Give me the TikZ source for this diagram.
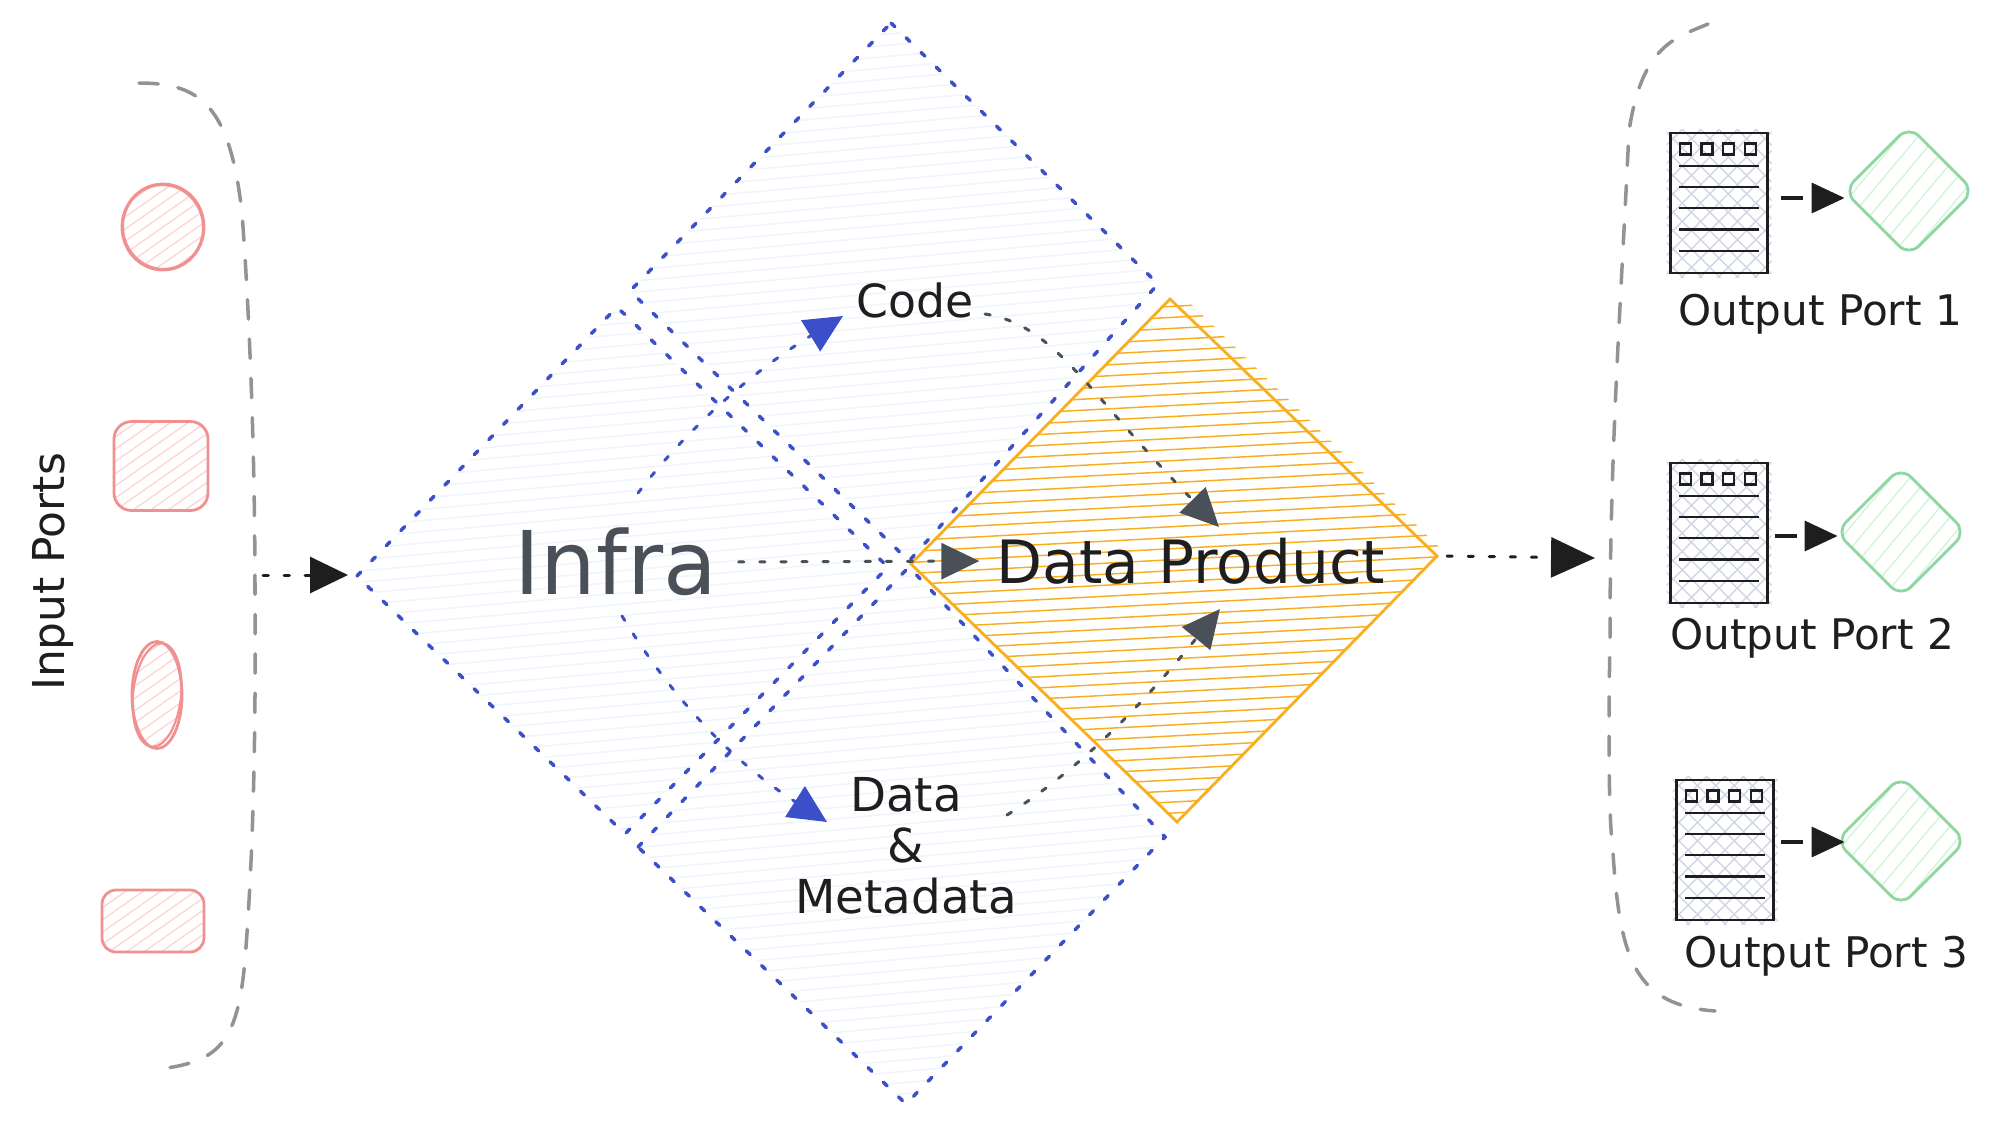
\documentclass[tikz,border=0pt]{standalone}
\usepackage{fontspec}
\setmainfont{DejaVu Sans}
\usetikzlibrary{calc,positioning,arrows.meta,shapes.geometric}
\definecolor{bluedot}{HTML}{3B4FC8}
\definecolor{orangeline}{HTML}{F8AE1E}
\definecolor{redline}{HTML}{F09090}
\definecolor{redfill}{HTML}{FFD5D5}
\definecolor{greenline}{HTML}{8FD6A0}
\definecolor{greenfill}{HTML}{D2F5D8}
\definecolor{inkdark}{HTML}{1E1E1E}
\definecolor{inkgray}{HTML}{495057}
\definecolor{crossfill}{HTML}{D0D6E2}
\definecolor{palefill}{HTML}{EEF5FC}
\tikzset{
  hachure/.style n args={4}{path picture={
    \foreach \h in {-60,...,60}
      \draw[#1, solid, line width=#4] ($(path picture bounding box.center)+(-#2:-9)+(90-#2:\h*#3)$) -- ++(-#2:18);
  }},
  quarter/.style={draw=bluedot, line width=1pt, dash pattern=on 1.5pt off 4.5pt, line cap=round,
    hachure={palefill}{5}{.112}{.45pt}},
  portshape/.style={draw=redline, line width=.8pt, inner sep=0pt, hachure={redfill}{35}{.1}{.4pt}},
  docbox/.style={draw=inkdark, line width=.7pt, inner sep=0pt, minimum width=.97cm, minimum height=1.40cm},
  dochatch/.style={inner sep=0pt, minimum width=1.05cm, minimum height=1.48cm},
  docsquare/.style={draw=inkdark, line width=.7pt, inner sep=0pt, minimum size=.11cm},
  portdiamond/.style={diamond, aspect=1, draw=greenline, line width=.8pt, inner sep=0pt, minimum width=1.31cm, minimum height=1.31cm,
    rounded corners=4pt, hachure={greenfill}{50}{.14}{.4pt}},
  flowgray/.style={draw=inkgray, line width=.85pt, dash pattern=on 1.5pt off 4.5pt, line cap=round,
    -{Triangle[length=.38cm,width=.36cm]}},
  flowblue/.style={flowgray, draw=bluedot},
  flowdark/.style={flowgray, draw=inkdark},
  bracket/.style={draw=gray!85, line width=1pt, dash pattern=on 5.5pt off 5.7pt, line cap=round},
  portlabel/.style={text=inkdark, font=\fontsize{12}{14}\selectfont}
}
\begin{document}
\begin{tikzpicture}[y=-1cm]
\useasboundingbox (0,0) rectangle (20,11.28);

% the four quarters
\path[quarter] (8.91,.23) -- (11.58,2.84) -- (9.09,5.61) -- (6.30,2.91) -- cycle;
\path[quarter] (3.57,5.76) -- (6.17,3.07) -- (8.88,5.67) -- (6.25,8.34) -- cycle;
\path[quarter] (6.38,8.47) -- (9.09,5.67) -- (11.65,8.37) -- (9.06,11.04) -- cycle;
\path[hachure={orangeline}{3}{.11}{.42pt}]
  (11.70,2.99) -- (11.84,2.97) -- (14.41,5.49) -- (14.37,5.56) -- (11.77,8.22) -- (9.11,5.64) -- cycle;
\draw[draw=orangeline, line width=.8pt] (11.70,2.99) -- (14.37,5.56) -- (11.77,8.22) -- (9.11,5.64) -- cycle;
\coordinate (productright) at (14.37,5.56);

% input side
\draw[bracket] (1.39,.83) .. controls (2.0,.83) and (2.3,1.05) .. (2.42,2.13)
  .. controls (2.5,3.2) and (2.55,4.6) .. (2.55,5.93)
  .. controls (2.56,7.4) and (2.53,8.6) .. (2.45,9.6)
  .. controls (2.38,10.4) and (2.2,10.6) .. (1.67,10.68);
\node[portshape, ellipse, minimum width=.82cm, minimum height=.86cm] (port1) at (1.63,2.27){};
\node[portshape, rectangle, rounded corners=5pt, minimum width=.94cm, minimum height=.89cm] (port2) at (1.61,4.66){};
\node[portshape, ellipse, minimum width=.50cm, minimum height=1.07cm] (port3) at (1.57,6.95){};
\node[portshape, rectangle, rounded corners=4pt, minimum width=1.02cm, minimum height=.62cm] (port4) at (1.53,9.21){};
\draw[redline, line width=.6pt, rotate around={8:(port1)}] (port1) ellipse (.40cm and .42cm);
\draw[redline, line width=.6pt, rotate around={-6:(port3)}] (port3) ellipse (.24cm and .52cm);
\node[portlabel, rotate=90, font=\fontsize{12.5}{14}\selectfont] (inputs) at (.53,5.72){Input Ports};
\coordinate (inputstart) at (2.63,5.75);
\coordinate (inputtip) at (3.48,5.75);
\draw[flowdark] (inputstart) -- (inputtip);

% text in the middle
\node[text=inkgray, font=\fontsize{25}{28}\selectfont] (infra) at (6.16,5.62){Infra};
\node[text=inkdark, font=\fontsize{13}{15}\selectfont] (code) at (9.15,3.0){Code};
\node[text=inkdark, align=center, font=\fontsize{13.3}{14.5}\selectfont] (data) at (9.06,8.46){Data\\\&\\Metadata};
\node[text=inkdark, font=\fontsize{17}{20}\selectfont] (product) at (11.91,5.61){Data Product};

\coordinate (infraup) at (6.38,4.93);
\coordinate (infradown) at (6.22,6.16);
\coordinate (codetip) at (8.43,3.16);
\coordinate (datatip) at (8.27,8.22);
\coordinate (fromcode) at (9.85,3.14);
\coordinate (fromdata) at (10.07,8.15);
\coordinate (producttop) at (12.19,5.27);
\coordinate (productlow) at (12.20,6.09);
\coordinate (outputin) at (15.95,5.58);

\draw[flowblue] (infraup) .. controls (6.9,4.25) and (7.55,3.7) .. (codetip);
\draw[flowblue] (infradown) .. controls (6.7,6.95) and (7.3,7.6) .. (datatip);
\draw[flowgray, shorten <=.09cm, shorten >=.05cm] (infra.east) -- (product.west);
\draw[flowgray] (fromcode) .. controls (10.55,3.25) and (10.85,3.9) .. (producttop);
\draw[flowgray] (fromdata) .. controls (10.7,7.75) and (11.3,7.2) .. (productlow);
\draw[flowdark, -{Triangle[length=.44cm,width=.40cm]}] (productright) ++(.10,0) -- (outputin);

% output side
\draw[bracket] (17.08,.24) .. controls (16.75,.38) and (16.42,.45) .. (16.29,1.31)
  .. controls (16.2,3.2) and (16.1,4.5) .. (16.10,6.38)
  .. controls (16.08,7.5) and (16.09,8.2) .. (16.13,8.53)
  .. controls (16.2,9.6) and (16.35,10.05) .. (17.15,10.11);

\foreach \n/\docx/\docy/\diax/\diay/\labx/\laby/\rowy/\gapa/\gapb in {
   1/17.19/2.03/19.09/1.91/18.20/3.14/1.98/.12/-.025,
   2/17.19/5.33/19.01/5.32/18.12/6.38/5.36/.06/-.035,
   3/17.25/8.50/19.01/8.41/18.26/9.56/8.42/.065/-.105}{
  \node[dochatch, hachure={crossfill}{45}{.13}{.4pt}] at (\docx,\docy){};
  \node[dochatch, hachure={crossfill}{-45}{.13}{.4pt}] at (\docx,\docy){};
  \node[docbox] (doc\n) at (\docx,\docy){};
  \node[portdiamond] (out\n) at (\diax,\diay){};
  \node[portlabel] (label\n) at (\labx,\laby){Output Port \n};
  \foreach \k in {0,1,2,3}
    \node[docsquare] at ($(doc\n.north west)+(.16+.217*\k,.17)$){};
  \foreach \k in {0,1,2,3,4}
    \draw[inkdark, line width=.65pt] ($(doc\n.north west)+(.10,.34+.2125*\k)$) -- ($(doc\n.north east)+(-.10,.34+.2125*\k)$);
  \draw[inkdark, line width=1pt, dash pattern=on 6.3pt off 10pt, shorten >=\gapb cm, -{Triangle[length=.33cm,width=.30cm]}] (doc\n.east|-0,\rowy) ++(\gapa,0) -- (out\n.west|-0,\rowy);
}
\end{tikzpicture}
\end{document}
